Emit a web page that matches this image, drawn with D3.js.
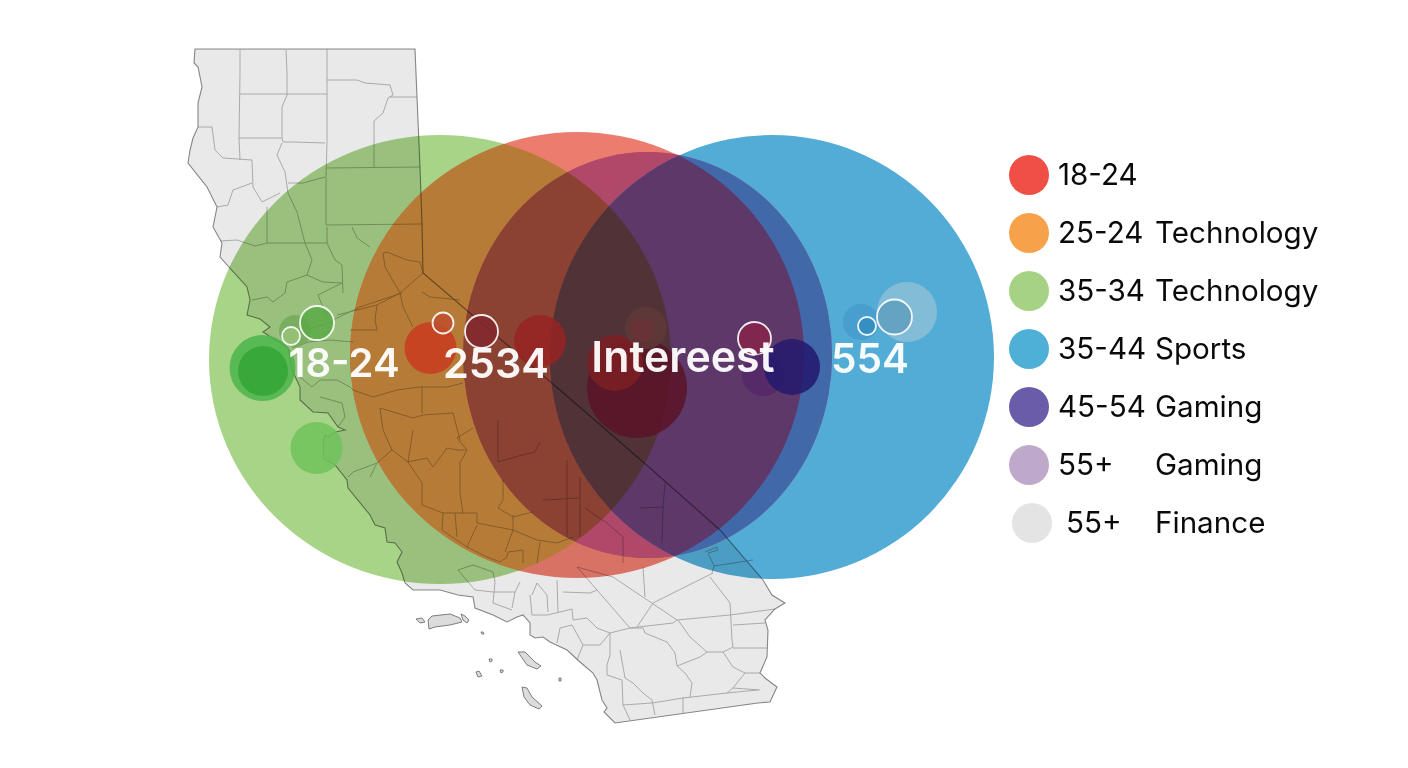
<!DOCTYPE html>
<html>
<head>
<meta charset="utf-8">
<script src="https://cdn.jsdelivr.net/npm/d3@7"></script>
<style>
  html, body { margin: 0; background: #fff; }
  svg { display: block; }
  text { font-family: Inter, sans-serif; }
</style>
</head>
<body>
<svg id="chart" width="1408" height="768"></svg>
<script>
// map units
const stateOutline = [[5,9],[225,9],[227,57],[230,127],[232,184],[233,233],[370,350],[460,428],[530,490],[573,540],[582,555],[595,563],[585,569],[575,580],[578,590],[577,617],[570,633],[575,638],[587,647],[580,662],[568,663],[425,683],[414,672],[417,668],[412,660],[407,640],[403,633],[390,622],[377,610],[360,602],[353,597],[345,598],[340,595],[340,583],[333,575],[327,577],[317,582],[303,575],[285,568],[283,557],[268,555],[250,550],[223,550],[215,543],[212,533],[207,522],[212,512],[205,503],[197,502],[195,488],[185,485],[180,475],[158,448],[157,440],[145,425],[134,419],[133,403],[135,395],[138,397],[145,392],[155,390],[148,387],[138,373],[123,372],[110,360],[110,347],[102,330],[98,308],[73,292],[80,287],[70,279],[57,275],[60,260],[57,247],[30,217],[32,203],[23,187],[27,167],[17,147],[-2,123],[0,110],[3,98],[8,87],[8,63],[12,47],[8,27],[4,23]]

const countyLines = [
  [[50,10],[50,32],[49,98],[50,120]],
  [[96,10],[97,33],[97,55],[92,67],[92,98]],
  [[137,9],[137,40],[137,103],[136,137],[136,185]],
  [[50,54],[97,54],[137,54]],
  [[49,98],[92,98]],
  [[137,40],[167,40],[175,43],[200,45],[203,55],[198,58],[193,73],[184,81],[184,127]],
  [[200,57],[227,57]],
  [[136,128],[230,127]],
  [[136,185],[232,184]],
  [[8,87],[22,87],[25,110],[33,118],[62,120],[63,147],[72,162],[90,153]],
  [[92,98],[93,102],[103,102],[135,103]],
  [[92,103],[87,115],[95,132],[98,153],[107,172],[115,203],[122,220],[117,235],[133,242]],
  [[98,143],[113,143],[135,137]],
  [[27,167],[38,165],[43,150],[62,143]],
  [[77,167],[77,203]],
  [[30,201],[47,200],[65,206],[77,203],[118,203],[137,203],[137,187]],
  [[137,203],[145,220],[152,225],[153,253]],
  [[162,187],[167,198],[180,207]],
  [[117,235],[97,242],[95,253],[83,262],[77,257],[62,260]],
  [[133,242],[152,243],[128,255],[137,277]],
  [[193,213],[197,212],[217,220],[230,222],[233,233],[210,253],[187,265],[147,275]],
  [[193,213],[195,227],[210,253],[213,267],[223,287]],
  [[232,252],[240,257],[270,260]],
  [[102,308],[118,302],[140,300],[163,302]],
  [[130,340],[147,340],[160,347],[163,350]],
  [[130,357],[152,363],[155,377],[148,387]],
  [[110,337],[122,347],[130,340]],
  [[107,293],[142,282]],
  [[143,280],[170,267],[212,253]],
  [[160,290],[187,290],[185,280],[187,265]],
  [[163,350],[183,357],[207,350],[230,347],[257,347],[273,343]],
  [[232,347],[232,373]],
  [[190,368],[223,378],[233,375],[263,373],[270,400]],
  [[190,368],[193,390],[202,410],[218,422],[232,443],[232,465],[253,473],[287,473],[287,483],[323,490]],
  [[218,422],[223,390]],
  [[218,422],[237,418],[243,427],[257,408],[267,410],[277,410],[270,423],[270,453],[273,473]],
  [[277,410],[267,398],[283,388]],
  [[253,473],[252,490],[277,507]],
  [[265,473],[267,497]],
  [[287,485],[277,507],[297,517],[310,522],[317,517],[318,512],[333,510],[333,523]],
  [[323,490],[315,512]],
  [[323,475],[323,490],[347,500],[367,503],[383,497]],
  [[313,440],[313,460],[308,468],[323,477],[343,472]],
  [[350,402],[345,412],[332,415],[308,422],[308,380]],
  [[377,420],[377,497]],
  [[390,437],[390,497]],
  [[353,460],[390,458]],
  [[395,468],[417,483],[433,497],[433,523]],
  [[350,502],[347,523]],
  [[202,410],[187,423],[180,437]],
  [[158,437],[163,432],[187,423]],
  [[285,550],[303,552],[325,552],[330,542]],
  [[285,550],[268,530],[283,525],[303,532],[305,542],[303,563],[322,570]],
  [[325,552],[322,568]],
  [[340,555],[342,575],[357,575],[370,572],[382,569]],
  [[342,555],[347,543],[357,555],[358,572]],
  [[367,540],[368,572]],
  [[382,569],[383,580],[397,578],[407,588],[420,593],[440,588]],
  [[382,585],[370,588],[367,603]],
  [[382,585],[393,605],[387,620]],
  [[393,605],[410,605],[420,593],[420,615],[417,625],[417,635],[432,640]],
  [[430,610],[435,638],[443,643],[453,653],[462,660],[465,675]],
  [[433,665],[462,663],[493,658],[537,653],[568,650]],
  [[432,640],[433,665],[440,680]],
  [[493,657],[493,673]],
  [[440,588],[453,588],[455,593],[477,602],[485,613],[487,626],[495,633],[502,643],[500,657]],
  [[487,626],[510,617],[517,612],[533,612],[543,627],[555,633],[543,648],[537,653]],
  [[488,580],[500,597],[517,612]],
  [[487,580],[540,575],[585,569]],
  [[440,588],[483,583],[487,580]],
  [[407,550],[440,588]],
  [[447,587],[463,563],[523,533]],
  [[423,537],[487,580]],
  [[520,537],[540,563],[542,600],[543,607],[533,612]],
  [[543,585],[575,583]],
  [[543,608],[577,608]],
  [[555,633],[570,633]],
  [[543,648],[570,650]],
  [[453,527],[455,557]],
  [[373,552],[400,553],[407,550],[387,527],[423,537]],
  [[515,512],[527,507],[528,510],[518,513],[524,526],[563,520]],
  [[524,526],[522,533]],
  [[475,443],[473,467],[472,503]],
  [[450,468],[473,467]]
]

const islands = [
  [[226,579],[232,578],[235,582],[230,583]],
  [[238,580],[242,576],[260,574],[270,578],[272,582],[260,585],[245,587],[239,589]],
  [[271,574],[275,576],[279,580],[277,583],[273,580]],
  [[291,592],[293,592],[294,594],[292,594]],
  [[299,619],[302,619],[302,621],[300,622]],
  [[310,630],[313,630],[313,632],[311,633]],
  [[369,638],[371,638],[371,641],[369,641]],
  [[286,632],[289,631],[292,636],[288,637]],
  [[328,612],[335,612],[345,622],[351,626],[347,629],[337,625]],
  [[332,647],[337,648],[342,657],[352,666],[349,669],[340,665],[334,657]]
]

// the four big rings: 18-24, 25-34, interest, 55+
const ringX = [250, 387, 457.5, 582]
const ringY = [319.5, 315, 315, 317]
const ringRx = [231, 227, 184.5, 222]
const ringRy = [224.5, 223, 203, 222]

// single rings darken the map below them, overlaps keep one flat tint
const soloRings = [0, 1, 3]
const soloTints = ['#a8d488', '#ec7d6e', '#53acd5']
const overlapRings = [[2],[0,1],[1,2],[1,3],[2,3],[0,1,2],[1,2,3],[0,1,2,3]]
const overlapTints = ['#b0486a','#b67c37','#b0486a','#4a4f8e','#4169aa','#8c4232','#5d3869','#503237']

// small hot spots, size is area (radius squared)
const spotX = [72.5,73,126.5,105,127,101,240.5,253,291.5,350,447,425,456,452,564.5,573,602,717,671,704.5,677]
const spotY = [328,331,408,291,283,296,308,283,291.5,301,348,323,288,290,298.5,335,327,272,282,277,286]
const spotSize = [1089,625,676,256,289,81,676,110,272,676,2500,784,441,144,272,441,784,900,324,306,81]
const spotTints = ['#4bb44b','#32a537','#6ec35a','#73aa5a','#5aaa46','#96c378','#c83c1e','#be502d','#82282d','#962323','#5a1428','#7d1e23','#5e3a38','#6a3236','#87234b','#552869','#23196e','#8cbed7','#469bcd','#5fa0be','#328cbe']
const spotRinged = [false,false,false,false,true,true,false,true,true,false,false,false,false,false,true,false,false,false,false,true,true]

const ringLabels = ['18-24', '2534', 'Intereest', '554']
const ringLabelX = [154, 306, 493, 680]
const ringLabelY = [337, 338, 332, 333]
const ringLabelSize = [40, 41.5, 42.8, 40.5]

const legendAges = ['18-24', '25-24', '35-34', '35-44', '45-54', '55+', '55+']
const legendTopics = ['', 'Technology', 'Technology', 'Sports', 'Gaming', 'Gaming', 'Finance']
const legendColors = ['#ef4f45', '#f5a24a', '#a6d283', '#4eb0d6', '#6a5ca8', '#bfa9cb', '#e4e4e4']
const legendRows = d3.range(legendAges.length)

const svg = d3.select('#chart')
svg.append('rect').attr('width', 1408).attr('height', 768).attr('fill', '#fff')

const x = d3.scaleLinear().domain([0, 620]).range([190, 810])
const y = d3.scaleLinear().domain([0, 700]).range([40, 740])
const spotRadius = d3.scaleSqrt().domain([0, 10000]).range([0, 100])
const rowY = d3.scalePoint().domain(legendRows).range([175, 523])
const line = d3.line().x(d => x(d[0])).y(d => y(d[1]))
const unitX = x(1) - x(0)
const unitY = y(1) - y(0)

// map fill first, its lines go on top of the rings
svg.append('path')
  .attr('d', line(stateOutline) + 'Z')
  .attr('fill', '#e9e9ea')

// rings
const ringEllipse = (sel, i) => sel
  .attr('cx', x(ringX[i]))
  .attr('cy', y(ringY[i]))
  .attr('rx', ringRx[i] * unitX)
  .attr('ry', ringRy[i] * unitY)

const defs = svg.append('defs')
ringX.forEach((_, i) => {
  defs.append('clipPath').attr('id', 'ring-' + i)
    .append('ellipse').call(ringEllipse, i)
})

const solo = svg.append('g').style('mix-blend-mode', 'multiply')
soloRings.forEach((r, k) => {
  solo.append('ellipse').call(ringEllipse, r).attr('fill', soloTints[k])
})

overlapRings.forEach((members, k) => {
  let holder = svg.append('g')
  members.slice(1).forEach(m => {
    holder = holder.append('g').attr('clip-path', `url(#ring-${m})`)
  })
  holder.append('ellipse')
    .call(ringEllipse, members[0])
    .attr('fill', overlapTints[k])
})

// map lines
const map = svg.append('g').style('mix-blend-mode', 'multiply')
map.append('g').selectAll('path')
  .data(countyLines)
  .enter().append('path')
  .attr('d', line)
  .attr('fill', 'none')
  .attr('stroke', '#b2b2b2')
  .attr('stroke-width', 0.9)
map.append('path')
  .attr('d', line(stateOutline) + 'Z')
  .attr('fill', 'none')
  .attr('stroke', '#8c8c8c')
  .attr('stroke-width', 1.1)
map.append('g').selectAll('path')
  .data(islands)
  .enter().append('path')
  .attr('d', d => line(d) + 'Z')
  .attr('fill', '#dcdcdc')
  .attr('stroke', '#707070')
  .attr('stroke-width', 0.9)

// hot spots
svg.append('g').selectAll('circle')
  .data(spotX)
  .enter().append('circle')
  .attr('cx', d => x(d))
  .attr('cy', (d, i) => y(spotY[i]))
  .attr('r', (d, i) => spotRadius(spotSize[i]))
  .attr('fill', (d, i) => spotTints[i])
  .attr('fill-opacity', 0.85)
  .attr('stroke', (d, i) => spotRinged[i] ? '#fff' : 'none')
  .attr('stroke-opacity', 0.9)
  .attr('stroke-width', 1.8)

// labels on the rings
svg.append('g').selectAll('text')
  .data(ringLabels)
  .enter().append('text')
  .attr('x', (d, i) => x(ringLabelX[i]))
  .attr('y', (d, i) => y(ringLabelY[i]))
  .attr('text-anchor', 'middle')
  .attr('font-size', (d, i) => ringLabelSize[i])
  .attr('font-weight', 600)
  .attr('fill', '#fff')
  .attr('fill-opacity', 0.95)
  .text(d => d)

// legend
const legend = svg.append('g').selectAll('g')
  .data(legendRows)
  .enter().append('g')
  .attr('transform', d => `translate(0,${rowY(d)})`)
legend.append('circle')
  .attr('cx', d => d === 6 ? 1032 : 1029)
  .attr('r', 20)
  .attr('fill', d => legendColors[d])
legend.append('text')
  .attr('x', d => d === 6 ? 1066 : 1058)
  .attr('y', 10)
  .attr('font-size', 29.6)
  .attr('fill', '#0a0a0a')
  .text(d => legendAges[d])
legend.append('text')
  .attr('x', 1155)
  .attr('y', 10)
  .attr('font-size', 29.6)
  .attr('fill', '#0a0a0a')
  .text(d => legendTopics[d])
</script>
</body>
</html>
